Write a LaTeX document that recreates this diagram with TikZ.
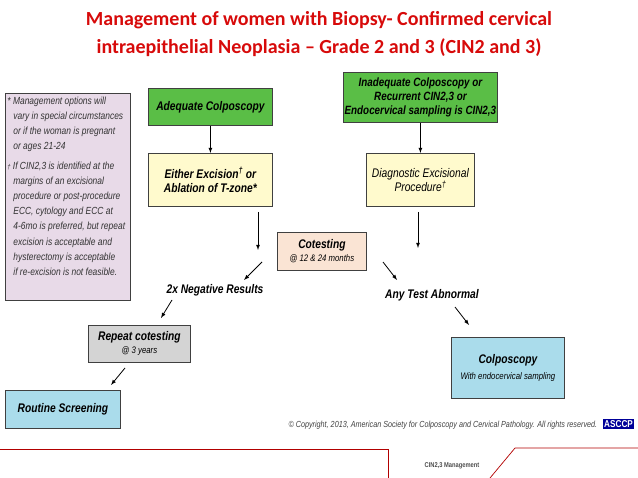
\documentclass[tikz,border=0pt]{standalone}
\usepackage{fontspec}
\setmainfont{Liberation Sans}[FakeStretch=0.82]
\newfontfamily\titlefont{Carlito}
\begin{document}
\begin{tikzpicture}[x=1pt,y=-1pt,
 box/.style={draw=black!75,line width=0.8pt,inner sep=0pt,font=\bfseries\itshape\fontsize{12.5}{14}\selectfont,align=center},
 arr/.style={-latex,line width=0.8pt},
 lbl/.style={font=\bfseries\itshape\fontsize{12.5}{13}\selectfont}]
\useasboundingbox (0,0) rectangle (638,478);
\definecolor{tred}{RGB}{215,10,10}
\definecolor{gr}{RGB}{90,190,70}
\definecolor{yl}{RGB}{255,250,205}
\definecolor{pk}{RGB}{250,228,212}
\definecolor{lav}{RGB}{232,218,232}
\definecolor{lb}{RGB}{170,220,235}
\node[font=\titlefont\bfseries\fontsize{20}{28}\selectfont,text=tred,align=center] (title) at (319,34)
 {Management of women with Biopsy- Confirmed cervical\\intraepithelial Neoplasia \textendash\ Grade 2 and 3 (CIN2 and 3)};
\node[box,fill=lav,minimum width=125,minimum height=207,anchor=north west,align=left,font=\itshape\fontsize{10.3}{15.2}\selectfont,text=black!80] (note) at (5,93)
 {\parbox[t][200pt][t]{121pt}{\raggedright\vspace*{0pt}
 {*} Management options will\\\hspace*{6pt}vary in special circumstances\\\hspace*{6pt}or if the woman is pregnant\\\hspace*{6pt}or ages 21-24\\[4pt]
 {\scriptsize\textdagger} If CIN2,3 is identified at the\\\hspace*{6pt}margins of an excisional\\\hspace*{6pt}procedure or post-procedure\\\hspace*{6pt}ECC, cytology and ECC at\\\hspace*{6pt}4-6mo is preferred, but repeat\\\hspace*{6pt}excision is acceptable and\\\hspace*{6pt}hysterectomy is acceptable\\\hspace*{6pt}if re-excision is not feasible.}};
\node[box,fill=gr,minimum width=124,minimum height=37,anchor=north west] (adeq) at (148,88) {Adequate Colposcopy};
\node[box,fill=yl,minimum width=124,minimum height=53,anchor=north west] (either) at (148,153) {Either Excision\textsuperscript{\textdagger} or\\Ablation of T-zone*};
\node[box,fill=gr,minimum width=154,minimum height=50,anchor=north west,font=\bfseries\itshape\fontsize{12}{14}\selectfont] (inad) at (343,72) {Inadequate Colposcopy or\\Recurrent CIN2,3 or\\Endocervical sampling is CIN2,3};
\node[box,fill=yl,minimum width=108,minimum height=53,anchor=north west,font=\itshape\fontsize{12.5}{14}\selectfont] (diag) at (366,153) {Diagnostic Excisional\\Procedure\textsuperscript{\textdagger}};
\node[box,fill=pk,minimum width=89,minimum height=38,anchor=north west] (cot) at (277,232) {Cotesting\\[-1pt]{\normalfont\itshape\fontsize{9.5}{10}\selectfont @ 12 \& 24 months}};
\node[lbl] (neg) at (215,290) {2x Negative Results};
\node[lbl] (abn) at (432,295) {Any Test Abnormal};
\node[box,fill=black!17,minimum width=102,minimum height=37,anchor=north west] (rep) at (88,325) {Repeat cotesting\\[-1pt]{\normalfont\itshape\fontsize{9.5}{10}\selectfont @ 3 years}};
\node[box,fill=lb,minimum width=115,minimum height=38,anchor=north west] (rout) at (5,390) {Routine Screening};
\node[box,fill=lb,minimum width=113,minimum height=61,anchor=north west] (colp) at (451,337) {Colposcopy\\[2pt]{\normalfont\itshape\fontsize{9.5}{10}\selectfont With endocervical sampling}};
\coordinate (e1) at (258,212); \coordinate (e2) at (258,250);
\coordinate (d1) at (418,212); \coordinate (d2) at (418,248);
\coordinate (n1) at (262,262); \coordinate (n2) at (244,280);
\coordinate (a1) at (383,262); \coordinate (a2) at (397,280);
\coordinate (r1) at (172,300); \coordinate (r2) at (161,318);
\coordinate (c1) at (455,307); \coordinate (c2) at (469,325);
\coordinate (s1) at (125,368); \coordinate (s2) at (111,385);
\draw[arr] (adeq) -- (either);
\draw[arr] (inad) -- (diag);
\draw[arr] (e1) -- (e2);
\draw[arr] (d1) -- (d2);
\draw[arr] (n1) -- (n2);
\draw[arr] (a1) -- (a2);
\draw[arr] (r1) -- (r2);
\draw[arr] (c1) -- (c2);
\draw[arr] (s1) -- (s2);
\node[font=\itshape\fontsize{8.8}{9}\selectfont,text=black!75,anchor=west] (copy) at (285,425) {\textcopyright\ Copyright, 2013, American Society for Colposcopy and Cervical Pathology. All rights reserved.};
\node[fill=blue!60!black,text=white,font=\bfseries\fontsize{10}{10}\selectfont,inner sep=1pt,anchor=west] (logo) at (603,424) {ASCCP};
\draw[red!70!black,line width=0.7pt] (0,449) -- (388,449) -- (388,478);
\draw[red!70!black,line width=0.7pt] (638,448) -- (515,448) -- (490,478);
\node[font=\bfseries\fontsize{7}{7}\selectfont,text=black!70] (foot) at (452,466) {CIN2,3 Management};
\end{tikzpicture}
\end{document}
